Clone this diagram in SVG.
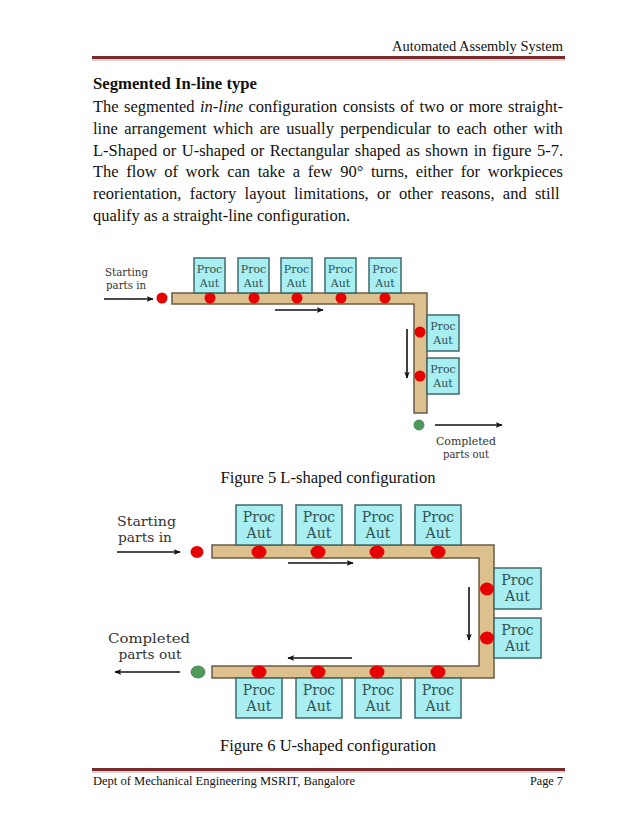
<svg xmlns="http://www.w3.org/2000/svg" width="638" height="826" viewBox="0 0 638 826">
<defs>
<style>
.t{font-family:"Liberation Serif","Times New Roman",serif;fill:#111}
.b{font-size:16.5px}
.d{font-family:"DejaVu Serif","Liberation Serif",serif;fill:#333}
.box{fill:#a9eef1;stroke:#3d6b6e;stroke-width:1.5}
.bt{fill:#2f5254}
.conv{fill:#dcc18f;stroke:#6b5b44;stroke-width:1.5}
.red{fill:#e60000}
.green{fill:#4f9a5a;stroke:#3f7a48;stroke-width:0.8}
.ar{stroke:#111;stroke-width:1.6;fill:none;marker-end:url(#ah)}
.pl{font-size:11px}
.pu{font-size:14px}
</style>
<marker id="ah" viewBox="0 0 10 8" refX="9" refY="4" markerWidth="7" markerHeight="5.6" markerUnits="userSpaceOnUse" orient="auto">
<path d="M0,0 L10,4 L0,8 L2.5,4 Z" fill="#111"/>
</marker>
</defs>
<rect width="638" height="826" fill="#fff"/>

<g id="header">
<text class="t" x="563" y="51" font-size="15" text-anchor="end" textLength="171" lengthAdjust="spacingAndGlyphs">Automated Assembly System</text>
<rect x="92" y="56" width="473" height="3" fill="#7a2a2c"/>
<rect x="92" y="59.5" width="473" height="1" fill="#c9a0a0"/>
</g>

<g id="body">
<text class="t b" x="93" y="89" font-weight="bold" textLength="164" lengthAdjust="spacingAndGlyphs">Segmented In-line  type</text>
<text class="t b" x="93" y="112" word-spacing="1.26">The segmented <tspan font-style="italic">in-line</tspan> configuration consists of two or more straight-</text>
<text class="t b" x="93" y="134" word-spacing="2.27">line arrangement which are usually perpendicular to each other with</text>
<text class="t b" x="93" y="156" word-spacing="1.32">L-Shaped or U-shaped or Rectangular shaped as shown in figure 5-7.</text>
<text class="t b" x="93" y="177" word-spacing="3.52">The flow of work can take a few 90° turns, either for workpieces</text>
<text class="t b" x="93" y="199" word-spacing="4.09">reorientation, factory layout limitations, or other reasons, and still</text>
<text class="t b" x="93" y="221">qualify as a straight-line configuration.</text>
</g>

<!-- Figure 5: L-shaped -->
<g id="fig5">
<g id="l-conveyor"><path class="conv" d="M172,293 H427 V413 H414 V304 H172 Z"/></g>
<g id="l-st1"><rect class="box" x="194" y="258" width="31" height="35"/><text class="d pl bt" x="209.5" y="273" text-anchor="middle">Proc</text><text class="d pl bt" x="209.5" y="287" text-anchor="middle">Aut</text></g>
<g id="l-st2"><rect class="box" x="238" y="258" width="31" height="35"/><text class="d pl bt" x="253.5" y="273" text-anchor="middle">Proc</text><text class="d pl bt" x="253.5" y="287" text-anchor="middle">Aut</text></g>
<g id="l-st3"><rect class="box" x="281" y="258" width="31" height="35"/><text class="d pl bt" x="296.5" y="273" text-anchor="middle">Proc</text><text class="d pl bt" x="296.5" y="287" text-anchor="middle">Aut</text></g>
<g id="l-st4"><rect class="box" x="325" y="258" width="31" height="35"/><text class="d pl bt" x="340.5" y="273" text-anchor="middle">Proc</text><text class="d pl bt" x="340.5" y="287" text-anchor="middle">Aut</text></g>
<g id="l-st5"><rect class="box" x="369" y="258" width="32" height="35"/><text class="d pl bt" x="385" y="273" text-anchor="middle">Proc</text><text class="d pl bt" x="385" y="287" text-anchor="middle">Aut</text></g>
<g id="l-st6"><rect class="box" x="427" y="315" width="32" height="36"/><text class="d pl bt" x="443" y="330" text-anchor="middle">Proc</text><text class="d pl bt" x="443" y="344" text-anchor="middle">Aut</text></g>
<g id="l-st7"><rect class="box" x="427" y="358" width="32" height="36"/><text class="d pl bt" x="443" y="373" text-anchor="middle">Proc</text><text class="d pl bt" x="443" y="387" text-anchor="middle">Aut</text></g>
<g id="l-parts">
<circle class="red" cx="162" cy="298" r="5.5"/>
<circle class="red" cx="210" cy="298" r="5.5"/>
<circle class="red" cx="254" cy="298" r="5.5"/>
<circle class="red" cx="297" cy="298" r="5.5"/>
<circle class="red" cx="341" cy="298" r="5.5"/>
<circle class="red" cx="385" cy="298" r="5.5"/>
<circle class="red" cx="420" cy="332" r="5.5"/>
<circle class="red" cx="420" cy="376" r="5.5"/>
<circle class="green" cx="419" cy="425" r="5"/>
</g>
<g id="l-start"><text class="d" font-size="11" x="105" y="276" textLength="43" lengthAdjust="spacingAndGlyphs">Starting</text><text class="d" font-size="11" x="106" y="289" textLength="40" lengthAdjust="spacingAndGlyphs">parts in</text></g>
<g id="l-end"><text class="d" font-size="11" x="466" y="445" text-anchor="middle" textLength="60" lengthAdjust="spacingAndGlyphs">Completed</text><text class="d" font-size="11" x="466" y="458" text-anchor="middle" textLength="46" lengthAdjust="spacingAndGlyphs">parts out</text></g>
<text class="t" x="328" y="483" font-size="16" text-anchor="middle" textLength="215" lengthAdjust="spacingAndGlyphs">Figure 5 L-shaped  configuration</text>
</g>

<!-- Figure 6: U-shaped -->
<g id="fig6">
<g id="u-conveyor"><path class="conv" d="M212,545 H494 V678 H212 V666 H479 V558 H212 Z"/></g>
<g id="u-st1"><rect class="box" x="236" y="505" width="46" height="40"/><text class="d pu bt" x="259" y="522" text-anchor="middle">Proc</text><text class="d pu bt" x="259" y="538" text-anchor="middle">Aut</text></g>
<g id="u-st2"><rect class="box" x="296" y="505" width="46" height="40"/><text class="d pu bt" x="319" y="522" text-anchor="middle">Proc</text><text class="d pu bt" x="319" y="538" text-anchor="middle">Aut</text></g>
<g id="u-st3"><rect class="box" x="355" y="505" width="46" height="40"/><text class="d pu bt" x="378" y="522" text-anchor="middle">Proc</text><text class="d pu bt" x="378" y="538" text-anchor="middle">Aut</text></g>
<g id="u-st4"><rect class="box" x="415" y="505" width="46" height="40"/><text class="d pu bt" x="438" y="522" text-anchor="middle">Proc</text><text class="d pu bt" x="438" y="538" text-anchor="middle">Aut</text></g>
<g id="u-st5"><rect class="box" x="494" y="568" width="47" height="41"/><text class="d pu bt" x="517.5" y="585" text-anchor="middle">Proc</text><text class="d pu bt" x="517.5" y="601" text-anchor="middle">Aut</text></g>
<g id="u-st6"><rect class="box" x="494" y="618" width="47" height="40"/><text class="d pu bt" x="517.5" y="635" text-anchor="middle">Proc</text><text class="d pu bt" x="517.5" y="651" text-anchor="middle">Aut</text></g>
<g id="u-st7"><rect class="box" x="236" y="678" width="46" height="40"/><text class="d pu bt" x="259" y="695" text-anchor="middle">Proc</text><text class="d pu bt" x="259" y="711" text-anchor="middle">Aut</text></g>
<g id="u-st8"><rect class="box" x="296" y="678" width="46" height="40"/><text class="d pu bt" x="319" y="695" text-anchor="middle">Proc</text><text class="d pu bt" x="319" y="711" text-anchor="middle">Aut</text></g>
<g id="u-st9"><rect class="box" x="355" y="678" width="46" height="40"/><text class="d pu bt" x="378" y="695" text-anchor="middle">Proc</text><text class="d pu bt" x="378" y="711" text-anchor="middle">Aut</text></g>
<g id="u-st10"><rect class="box" x="415" y="678" width="46" height="40"/><text class="d pu bt" x="438" y="695" text-anchor="middle">Proc</text><text class="d pu bt" x="438" y="711" text-anchor="middle">Aut</text></g>
<g id="u-parts">
<ellipse class="red" cx="197" cy="552" rx="6.5" ry="6"/>
<ellipse class="red" cx="259" cy="552" rx="7.5" ry="6.5"/>
<ellipse class="red" cx="318" cy="552" rx="7.5" ry="6.5"/>
<ellipse class="red" cx="377" cy="552" rx="7.5" ry="6.5"/>
<ellipse class="red" cx="438" cy="552" rx="7.5" ry="6.5"/>
<ellipse class="red" cx="487" cy="589" rx="7" ry="6.5"/>
<ellipse class="red" cx="487" cy="638" rx="7" ry="6.5"/>
<ellipse class="red" cx="259" cy="672" rx="7.5" ry="6.5"/>
<ellipse class="red" cx="318" cy="672" rx="7.5" ry="6.5"/>
<ellipse class="red" cx="377" cy="672" rx="7.5" ry="6.5"/>
<ellipse class="red" cx="438" cy="672" rx="7.5" ry="6.5"/>
<ellipse class="green" cx="198" cy="672" rx="7" ry="6"/>
</g>
<g id="u-start"><text class="d" font-size="13" x="117" y="526" textLength="59" lengthAdjust="spacingAndGlyphs">Starting</text><text class="d" font-size="13" x="118" y="542" textLength="54" lengthAdjust="spacingAndGlyphs">parts in</text></g>
<g id="u-end"><text class="d" font-size="13" x="149" y="643" text-anchor="middle" textLength="82" lengthAdjust="spacingAndGlyphs">Completed</text><text class="d" font-size="13" x="150" y="659" text-anchor="middle" textLength="63" lengthAdjust="spacingAndGlyphs">parts out</text></g>
<text class="t" x="328" y="751" font-size="16" text-anchor="middle" textLength="216" lengthAdjust="spacingAndGlyphs">Figure 6 U-shaped  configuration</text>
</g>

<g id="connectors">
<path class="ar" d="M104,299 H153"/>
<path class="ar" d="M275,310 H323"/>
<path class="ar" d="M407,329 V378"/>
<path class="ar" d="M435,425 H502"/>
<path class="ar" d="M117,552 H180"/>
<path class="ar" d="M288,563 H353"/>
<path class="ar" d="M469,587 V640"/>
<path class="ar" d="M352,658 H288"/>
<path class="ar" d="M180,672 H115"/>
</g>

<g id="footer">
<rect x="92" y="768" width="473" height="3" fill="#7a2a2c"/>
<rect x="92" y="771.5" width="473" height="1" fill="#c9a0a0"/>
<text class="t" x="93" y="785" font-size="13" textLength="262" lengthAdjust="spacingAndGlyphs">Dept of Mechanical Engineering MSRIT, Bangalore</text>
<text class="t" x="563" y="785" font-size="13" text-anchor="end" textLength="33" lengthAdjust="spacingAndGlyphs">Page 7</text>
</g>
</svg>
